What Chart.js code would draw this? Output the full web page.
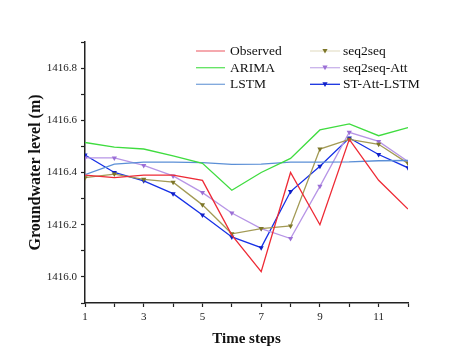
<!DOCTYPE html>
<html><head><meta charset="utf-8">
<script src="https://cdn.jsdelivr.net/npm/chart.js@4"></script>
<style>html,body{margin:0;padding:0;background:#fff}#wrap{width:474px;height:363px;position:relative}</style>
</head><body><div id="wrap"><canvas id="c" width="474" height="363"></canvas></div>
<script>
const steps = [1,2,3,4,5,6,7,8,9,10,11,12];
const observed   = [1416.39,1416.38,1416.39,1416.39,1416.37,1416.16,1416.02,1416.40,1416.20,1416.527,1416.37,1416.26];
const arima      = [1416.515,1416.497,1416.49,1416.464,1416.435,1416.332,1416.40,1416.454,1416.563,1416.586,1416.541,1416.572];
const lstm       = [1416.392,1416.432,1416.44,1416.44,1416.438,1416.431,1416.432,1416.44,1416.44,1416.441,1416.445,1416.446];
const seq2seq    = [1416.38,1416.394,1416.374,1416.363,1416.276,1416.165,1416.185,1416.195,1416.49,1416.527,1416.508,1416.435];
const seq2seqAtt = [1416.456,1416.456,1416.427,1416.387,1416.323,1416.245,1416.185,1416.147,1416.347,1416.554,1416.519,1416.442];
const stAttLstm  = [1416.467,1416.40,1416.368,1416.319,1416.237,1416.153,1416.112,1416.327,1416.424,1416.532,1416.469,1416.418];
const yLabelTicks = [1416.0,1416.2,1416.4,1416.6,1416.8];
const xLabelTicks = [1,3,5,7,9,11];

const pts = arr => arr.map((v,i)=>({x:steps[i], y:v}));
const serif = "'Liberation Serif','Times New Roman',serif";

const series = [
  {label:'Observed', data:observed, color:'#ee2a35', marker:false, legendColor:'#f07a82'},
  {label:'ARIMA', data:arima, color:'#3fdc3f', marker:false, legendColor:'#5fe35f'},
  {label:'LSTM', data:lstm, color:'#5b8fd6', marker:false, legendColor:'#7da6dc'},
  {label:'seq2seq', data:seq2seq, color:'#a39a55', pcolor:'#7d7628', marker:true, legendColor:'#e6e2cc'},
  {label:'seq2seq-Att', data:seq2seqAtt, color:'#b795e6', pcolor:'#9b6fd6', marker:true, legendColor:'#c9b3ea'},
  {label:'ST-Att-LSTM', data:stAttLstm, color:'#1630e6', pcolor:'#1020c8', marker:true, legendColor:'#1630e0'}
];

const legendPlugin = {
  id:'customLegend',
  afterDatasetsDraw(chart){
    const ctx = chart.ctx;
    const cols = [{x0:196,x1:225,tx:230},{x0:310,x1:340,tx:343}];
    const rowsY = [51,67.7,84.3];
    ctx.save();
    ctx.font = "13.5px " + serif;
    ctx.textBaseline = 'middle';
    ctx.textAlign = 'left';
    series.forEach((s,i)=>{
      const c = cols[i<3?0:1];
      const y = rowsY[i%3];
      ctx.strokeStyle = s.legendColor;
      ctx.lineWidth = 1.3;
      ctx.beginPath(); ctx.moveTo(c.x0,y); ctx.lineTo(c.x1,y); ctx.stroke();
      if (s.marker){
        const mx=(c.x0+c.x1)/2, r=2.6;
        ctx.fillStyle = s.pcolor;
        ctx.beginPath(); ctx.moveTo(mx-r,y-r*0.8); ctx.lineTo(mx+r,y-r*0.8); ctx.lineTo(mx,y+r*1.0); ctx.closePath(); ctx.fill();
      }
      ctx.fillStyle = '#111';
      ctx.fillText(s.label, c.tx, y+0.5);
    });
    ctx.restore();
  }
};

new Chart(document.getElementById('c'), {
  type:'line',
  data:{
    datasets: series.map(s=>({
      label:s.label,
      data:pts(s.data),
      borderColor:s.color,
      backgroundColor:s.pcolor||s.color,
      borderWidth:1.3,
      pointRadius:s.marker?3:0,
      pointStyle:'triangle',
      pointRotation:180,
      pointBorderWidth:0,
      pointBackgroundColor:s.pcolor||s.color,
      tension:0,
      fill:false
    }))
  },
  options:{
    responsive:false,
    animation:false,
    layout:{padding:{left:26,top:42,right:66,bottom:10}},
    plugins:{legend:{display:false},tooltip:{enabled:false}},
    scales:{
      x:{
        type:'linear', min:1, max:12,
        afterFit(s){ s.height = 50; },
        afterBuildTicks(s){ s.ticks = steps.map(v=>({value:v})); },
        ticks:{
          autoSkip:false, maxRotation:0, padding:4,
          color:'#222', font:{family:serif,size:11},
          callback:v=> xLabelTicks.includes(v) ? String(v) : ''
        },
        grid:{drawOnChartArea:false, drawTicks:true, tickLength:4, tickColor:'#222', tickWidth:1.2},
        border:{display:true, color:'#222', width:1.5},
        title:{display:true, text:'Time steps', color:'#111', font:{family:serif,size:15,weight:'bold'}, padding:{top:4,bottom:5}}
      },
      y:{
        min:1415.9, max:1416.9,
        afterFit(s){ s.width = 59; },
        afterBuildTicks(s){ const t=[]; for(let k=0;k<=10;k++){ t.push({value:+(1415.9+k*0.1).toFixed(1)}); } s.ticks=t; },
        ticks:{
          autoSkip:false, padding:4,
          color:'#222', font:{family:serif,size:11},
          callback:v=> yLabelTicks.some(t=>Math.abs(t-v)<1e-6) ? v.toFixed(1) : ''
        },
        grid:{drawOnChartArea:false, drawTicks:true, tickLength:4, tickColor:'#222', tickWidth:1.2},
        border:{display:true, color:'#222', width:1.5},
        title:{display:true, text:'Groundwater level (m)', color:'#111', font:{family:serif,size:16,weight:'bold'}, padding:{top:0,bottom:4}}
      }
    }
  },
  plugins:[legendPlugin]
});
</script></body></html>
